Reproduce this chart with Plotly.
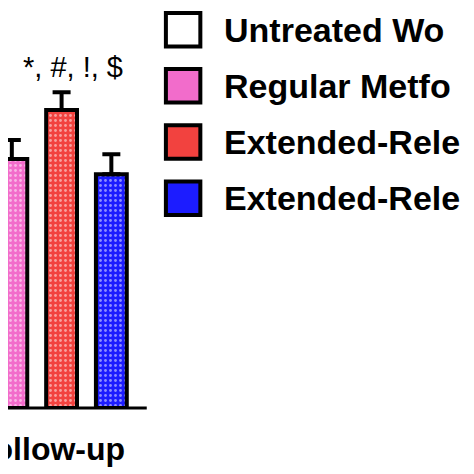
import plotly.graph_objects as go

groups = ['Untreated Women', 'Regular Metformin', 'Extended-Release Metformin A', 'Extended-Release Metformin B']
legend_labels = ['Untreated Wo', 'Regular Metfo', 'Extended-Rele', 'Extended-Rele']
values = [55.0, 61.3, 73.4, 57.6]
errors = [4.5, 4.7, 4.4, 4.9]
colors = ['white', '#f26ccb', '#f2423f', '#1c1cff']
category = 'Follow-up'
sig_text = '*, #, !, $'

W = H = 474
KX, KY = 1.045, 1.015  # correction for rendered scale
px = lambda v: v / KX / W
py = lambda v: 1 - v / KY / H

fig = go.Figure()
for i, g in enumerate(groups):
    fig.add_trace(go.Bar(
        x=[i], y=[values[i]], width=0.62, name=g,
        marker=dict(color=colors[i], line=dict(color='black', width=4),
                    pattern=dict(shape='.', fgcolor='white', size=5, solidity=0.25)),
        error_y=dict(type='data', symmetric=False, array=[errors[i]], arrayminus=[0],
                     color='black', thickness=4, width=9),
    ))

x0 = 1 - 4 / 52
fig.update_layout(
    width=W, height=H, margin=dict(l=0, r=0, t=0, b=0),
    plot_bgcolor='white', paper_bgcolor='white', showlegend=False,
    xaxis=dict(domain=[0, px(145)], range=[x0, x0 + 145 / 52], showticklabels=False,
               showgrid=False, zeroline=False, showline=False),
    yaxis=dict(domain=[py(406), 1], range=[0, 100 / KY], showticklabels=False,
               showgrid=False, zeroline=False),
)
fig.add_shape(type='line', xref='paper', yref='paper', x0=0, x1=px(145),
              y0=py(406), y1=py(406), line=dict(color='black', width=3))
fig.add_annotation(text='<b>' + category + '</b>', xref='paper', yref='paper',
                   x=px(124), y=py(448), xanchor='right', yanchor='middle', showarrow=False,
                   font=dict(family='Liberation Sans, Arial', size=32, color='black'))
fig.add_annotation(text=sig_text, xref='paper', yref='paper', x=px(122), y=py(60),
                   xanchor='right', yanchor='middle', showarrow=False,
                   font=dict(family='Liberation Sans, Arial', size=29, color='black'))

rows_y = [22, 79, 136, 193]
for i, lab in enumerate(legend_labels):
    cy = rows_y[i]
    fig.add_shape(type='rect', xref='paper', yref='paper', x0=px(165), x1=px(201),
                  y0=py(cy + 17), y1=py(cy - 17),
                  fillcolor=colors[i], line=dict(color='black', width=4))
    fig.add_annotation(text='<b>' + lab + '</b>', xref='paper', yref='paper',
                       x=px(224), y=py(cy), xanchor='left', yanchor='middle',
                       showarrow=False,
                       font=dict(family='Liberation Sans, Arial', size=34, color='black'))

fig.write_html('out.html')
